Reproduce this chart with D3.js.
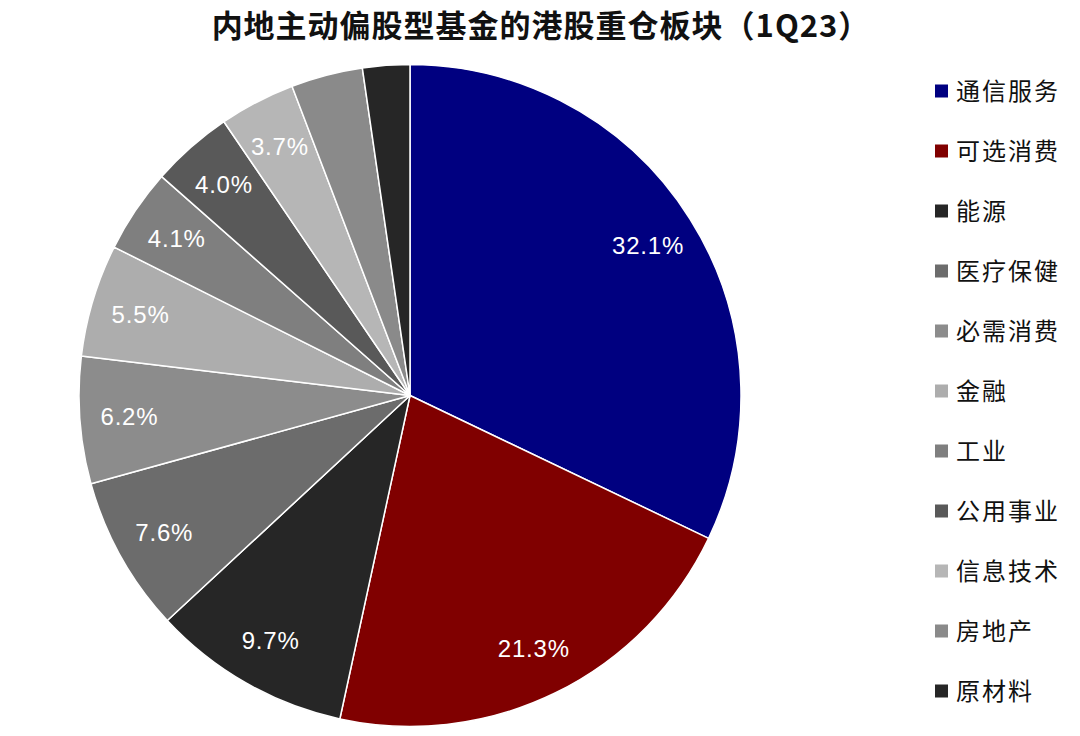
<!DOCTYPE html>
<html>
<head>
<meta charset="utf-8">
<script src="https://cdn.jsdelivr.net/npm/d3@7"></script>
<style>
  body { margin: 0; background: #fff; }
  svg { display: block; font-family: "Liberation Sans", Arial, "Noto Sans CJK SC", sans-serif; }
</style>
</head>
<body>
<div id="chart"></div>
<script>
const title = '内地主动偏股型基金的港股重仓板块（1Q23）';
const sectors = ['通信服务', '可选消费', '能源', '医疗保健', '必需消费', '金融', '工业', '公用事业', '信息技术', '房地产', '原材料'];
const shares = [32.1, 21.3, 9.7, 7.6, 6.2, 5.5, 4.1, 4.0, 3.7, 3.5, 2.3];
const colors = ['#000080', '#800000', '#262626', '#6c6c6c', '#8c8c8c', '#adadad', '#7f7f7f', '#595959', '#b6b6b6', '#8a8a8a', '#262626'];
// slices this small carry no label in the original
const minLabel = 3.7;

const width = 1080, height = 736;
const cx = 410, cy = 395.5, radius = 331;

const svg = d3.select('#chart').append('svg')
  .attr('width', width)
  .attr('height', height);

svg.append('text')
  .attr('x', 541)
  .attr('y', 37)
  .attr('text-anchor', 'middle')
  .attr('font-size', 31)
  .attr('letter-spacing', 1)
  .attr('font-weight', 'bold')
  .attr('font-family', '"Noto Sans CJK SC", sans-serif')
  .attr('fill', '#111')
  .text(title);

const data = sectors.map((name, i) => ({ name, value: shares[i], color: colors[i] }));

const pie = d3.pie().value(d => d.value).sort(null);
const arc = d3.arc().innerRadius(0).outerRadius(radius);
const labelArc = d3.arc().innerRadius(radius * 0.85).outerRadius(radius * 0.85);

const g = svg.append('g').attr('transform', `translate(${cx},${cy})`);
const arcs = pie(data);

g.selectAll('path')
  .data(arcs)
  .enter()
  .append('path')
  .attr('d', arc)
  .attr('fill', d => d.data.color)
  .attr('stroke', '#fff')
  .attr('stroke-width', 1.5)
  .attr('stroke-linejoin', 'round');

g.selectAll('text')
  .data(arcs.filter(d => d.data.value >= minLabel))
  .enter()
  .append('text')
  .attr('transform', d => `translate(${labelArc.centroid(d)})`)
  .attr('text-anchor', 'middle')
  .attr('dy', '0.36em')
  .attr('font-size', 24)
  .attr('letter-spacing', 0.8)
  .attr('fill', '#fff')
  .text(d => d.data.value.toFixed(1) + '%');

const legend = svg.append('g').attr('transform', 'translate(935,91)');
const rowH = 60;

const item = legend.selectAll('g')
  .data(data)
  .enter()
  .append('g')
  .attr('transform', (d, i) => `translate(0,${i * rowH})`);

item.append('rect')
  .attr('x', 0)
  .attr('y', -6.5)
  .attr('width', 13)
  .attr('height', 13)
  .attr('fill', d => d.color);

item.append('text')
  .attr('x', 21)
  .attr('dy', '0.36em')
  .attr('font-size', 24)
  .attr('letter-spacing', 2)
  .attr('font-family', '"Noto Sans CJK SC", sans-serif')
  .attr('fill', '#111')
  .text(d => d.name);
</script>
</body>
</html>
